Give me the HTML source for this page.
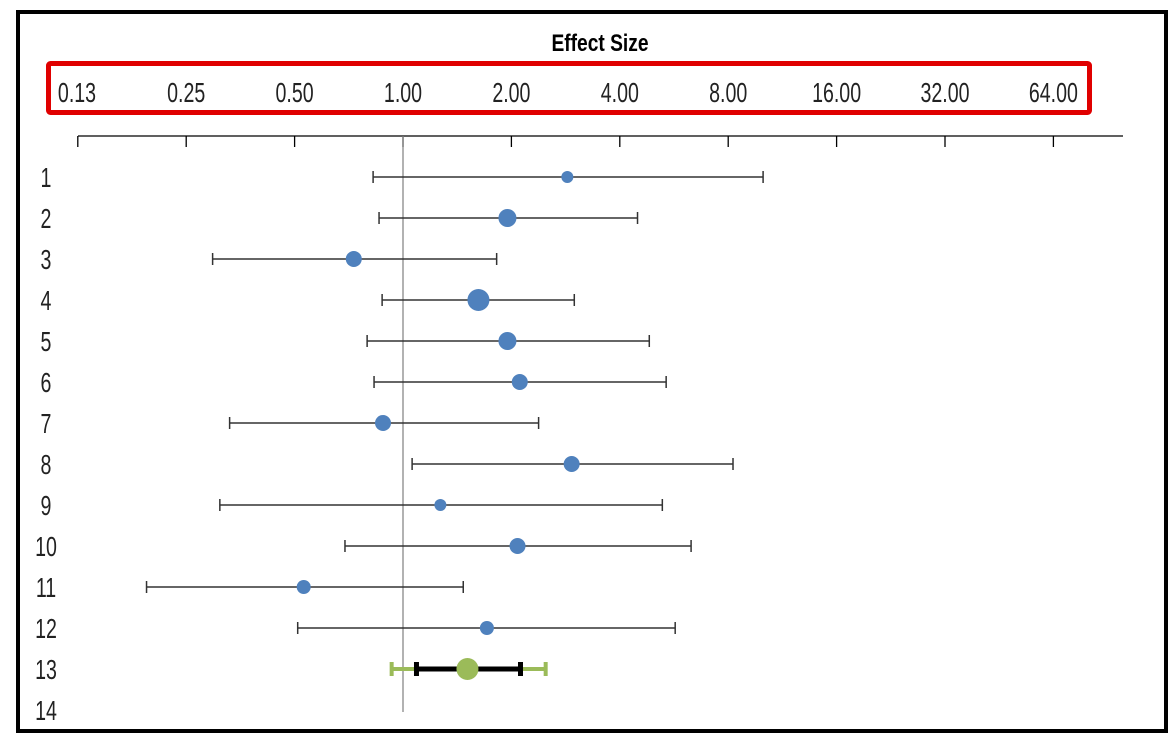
<!DOCTYPE html>
<html><head><meta charset="utf-8"><style>
html,body{margin:0;padding:0;background:#fff;}
svg{display:block;}
text{font-family:"Liberation Sans",sans-serif;}
</style></head><body>
<svg id="chart" width="1169" height="736" xmlns="http://www.w3.org/2000/svg">
<rect x="18" y="12" width="1148" height="719" fill="#fff" stroke="#000" stroke-width="4"/>
<text x="600" y="51" text-anchor="middle" font-size="24" font-weight="bold" transform="translate(600 0) scale(0.8 1) translate(-600 0)">Effect Size</text>
<rect x="48.5" y="63.5" width="1041" height="49" fill="none" stroke="#e00000" stroke-width="5" rx="2"/>
<g id="ticklabels"></g>
<line x1="78" y1="136" x2="1123" y2="136" stroke="#000" stroke-width="1.3"/>
<g id="ticks"></g>
<line x1="403" y1="136" x2="403" y2="712" stroke="#888" stroke-width="1.3"/>
<g id="rows"></g>
<g id="marks"></g>
</svg>
<script>
const studies=[1,2,3,4,5,6,7,8,9,10,11,12,13,14];
const estimates=[2.86,1.95,0.73,1.62,1.95,2.11,0.88,2.94,1.27,2.08,0.53,1.71];
const lower=[0.826,0.858,0.296,0.875,0.795,0.831,0.33,1.06,0.31,0.69,0.194,0.51];
const upper=[10.0,4.48,1.82,2.99,4.83,5.38,2.38,8.25,5.25,6.31,1.47,5.7];
const weights=[6,9,8,11,9,8,8,8,6,8,7,7];
const summaryEstimate=[1.51];
const summaryCI=[1.09,2.12];
const summaryPI=[0.93,2.49];
const tickValues=[0.125,0.25,0.5,1,2,4,8,16,32,64];
const tickLabels=["0.13","0.25","0.50","1.00","2.00","4.00","8.00","16.00","32.00","64.00"];
const NS="http://www.w3.org/2000/svg";
const x=v=>403+108.4*Math.log2(v);
const y=i=>177+41*i;
function mk(tag,attrs,parent){const e=document.createElementNS(NS,tag);for(const k in attrs)e.setAttribute(k,attrs[k]);document.getElementById(parent).appendChild(e);return e;}
tickValues.forEach((v,i)=>{
  const t=mk('line',{x1:x(v),x2:x(v),y1:136,y2:147,stroke:'#000','stroke-width':1.3},'ticks');
  
  
  const lx=i===0?77:x(v);
  const l=mk('text',{x:lx,y:102,'text-anchor':'middle','font-size':28,fill:'#222',transform:`translate(${lx} 0) scale(0.7 1) translate(${-lx} 0)`},'ticklabels');
  l.textContent=tickLabels[i];
  
  
});
studies.forEach((s,i)=>{
  const l=mk('text',{x:46,y:y(i)+10,'text-anchor':'middle','font-size':28,fill:'#222',transform:`translate(46 0) scale(0.7 1) translate(-46 0)`},'rows');
  l.textContent=s;
  
  
});
function bar(lo,hi,yy,col,w,cap){
  const g=mk('g',{},'marks');
  
  
  [[x(lo),yy,x(hi),yy],[x(lo),yy-cap,x(lo),yy+cap],[x(hi),yy-cap,x(hi),yy+cap]].forEach(c=>{
    const ln=document.createElementNS(NS,'line');
    ln.setAttribute('x1',c[0]);ln.setAttribute('y1',c[1]);ln.setAttribute('x2',c[2]);ln.setAttribute('y2',c[3]);
    ln.setAttribute('stroke',col);ln.setAttribute('stroke-width',w);g.appendChild(ln);
  });
}
estimates.forEach((v,i)=>{
  bar(lower[i],upper[i],y(i),'#333',1.5,6);
  const c=mk('circle',{cx:x(v),cy:y(i),r:weights[i],fill:'#4f81bd'},'marks');
  
  
});
bar(summaryPI[0],summaryPI[1],y(12),'#9bbb59',4,7);
bar(summaryCI[0],summaryCI[1],y(12),'#000',5,7);
const sc=mk('circle',{cx:x(summaryEstimate[0]),cy:y(12),r:11,fill:'#9bbb59'},'marks');


</script>
</body></html>
